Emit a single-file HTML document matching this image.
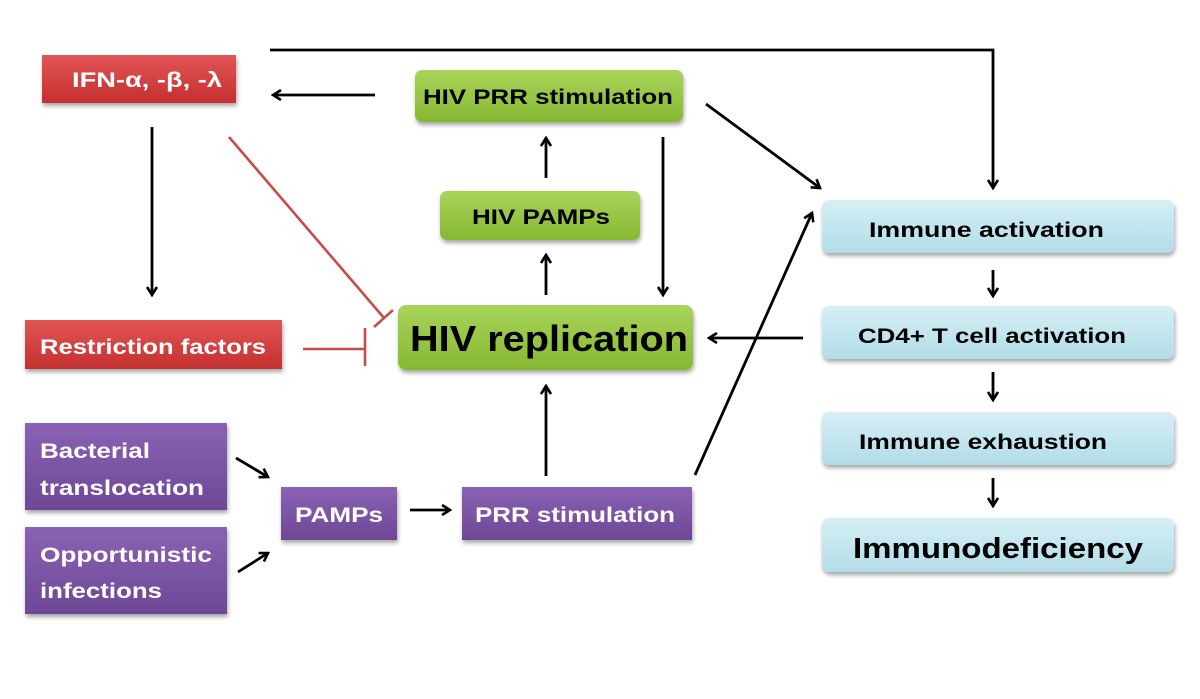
<!DOCTYPE html>
<html><head><meta charset="utf-8"><style>
html,body{margin:0;padding:0;background:#fff;width:1200px;height:699px;overflow:hidden}
svg text{font-family:"Liberation Sans",sans-serif;font-weight:bold}
</style></head><body>
<svg width="1200" height="699" viewBox="0 0 1200 699" xmlns="http://www.w3.org/2000/svg">
<defs>
<marker id="a" viewBox="0 0 12 12" refX="10" refY="6" markerWidth="12" markerHeight="12" markerUnits="userSpaceOnUse" orient="auto">
<polyline points="2,1 10,6 2,11" fill="none" stroke="#000" stroke-width="2.6"/></marker>
<linearGradient id="r" x1="0" y1="0" x2="0" y2="1"><stop offset="0" stop-color="#e25555"/><stop offset="1" stop-color="#c42f2f"/></linearGradient>
<linearGradient id="g" x1="0" y1="0" x2="0" y2="1"><stop offset="0" stop-color="#a9d45a"/><stop offset="1" stop-color="#86b832"/></linearGradient>
<linearGradient id="p" x1="0" y1="0" x2="0" y2="1"><stop offset="0" stop-color="#8a62b4"/><stop offset="1" stop-color="#6e4796"/></linearGradient>
<linearGradient id="b" x1="0" y1="0" x2="0" y2="1"><stop offset="0" stop-color="#d6eff5"/><stop offset="1" stop-color="#b2dde8"/></linearGradient>
<filter id="s" x="-10%" y="-10%" width="120%" height="130%"><feDropShadow dx="1" dy="3" stdDeviation="2" flood-opacity="0.35"/></filter>
</defs>

<!-- boxes -->
<g filter="url(#s)">
<rect x="42" y="55" width="194" height="48" fill="url(#r)"/>
<rect x="25" y="320" width="257" height="49" fill="url(#r)"/>
<rect x="415" y="70" width="268" height="52" rx="7" fill="url(#g)"/>
<rect x="440" y="191" width="200" height="49" rx="7" fill="url(#g)"/>
<rect x="398" y="305" width="295" height="65" rx="8" fill="url(#g)"/>
<rect x="25" y="423" width="202" height="87" fill="url(#p)"/>
<rect x="25" y="527" width="202" height="87" fill="url(#p)"/>
<rect x="281" y="487" width="116" height="53" fill="url(#p)"/>
<rect x="462" y="487" width="230" height="53" fill="url(#p)"/>
<rect x="822" y="200" width="352" height="53" rx="7" fill="url(#b)"/>
<rect x="822" y="306" width="352" height="53" rx="7" fill="url(#b)"/>
<rect x="822" y="412" width="352" height="53" rx="7" fill="url(#b)"/>
<rect x="822" y="518" width="352" height="54" rx="7" fill="url(#b)"/>
</g>

<!-- text -->
<g fill="#fff" font-size="21">
<text x="72" y="87" textLength="150" lengthAdjust="spacingAndGlyphs">IFN-α, -β, -λ</text>
<text x="40" y="354" textLength="226" lengthAdjust="spacingAndGlyphs">Restriction factors</text>
<text x="40" y="458" textLength="110" lengthAdjust="spacingAndGlyphs">Bacterial</text>
<text x="40" y="495" textLength="164" lengthAdjust="spacingAndGlyphs">translocation</text>
<text x="40" y="562" textLength="172" lengthAdjust="spacingAndGlyphs">Opportunistic</text>
<text x="40" y="598" textLength="122" lengthAdjust="spacingAndGlyphs">infections</text>
<text x="295" y="522" textLength="88" lengthAdjust="spacingAndGlyphs">PAMPs</text>
<text x="475" y="522" textLength="200" lengthAdjust="spacingAndGlyphs">PRR stimulation</text>
</g>
<g fill="#000" font-size="21">
<text x="423" y="104" textLength="250" lengthAdjust="spacingAndGlyphs">HIV PRR stimulation</text>
<text x="472" y="224" textLength="138" lengthAdjust="spacingAndGlyphs">HIV PAMPs</text>
<text x="410" y="351" font-size="36" textLength="278" lengthAdjust="spacingAndGlyphs">HIV replication</text>
<text x="869" y="237" textLength="235" lengthAdjust="spacingAndGlyphs">Immune activation</text>
<text x="858" y="343" textLength="268" lengthAdjust="spacingAndGlyphs">CD4+ T cell activation</text>
<text x="859" y="449" textLength="248" lengthAdjust="spacingAndGlyphs">Immune exhaustion</text>
<text x="853" y="558" font-size="29" textLength="290" lengthAdjust="spacingAndGlyphs">Immunodeficiency</text>
</g>

<!-- arrows -->
<g stroke="#000" stroke-width="2.8" fill="none" marker-end="url(#a)">
<polyline points="270,50 993,50 993,188"/>
<line x1="375" y1="95" x2="273" y2="95"/>
<line x1="152" y1="127" x2="152" y2="295"/>
<line x1="546" y1="178" x2="546" y2="138"/>
<line x1="546" y1="295" x2="546" y2="255"/>
<line x1="663" y1="137" x2="663" y2="295"/>
<line x1="706" y1="104" x2="820" y2="188"/>
<line x1="803" y1="338" x2="709" y2="338"/>
<line x1="546" y1="476" x2="546" y2="386"/>
<line x1="695" y1="475" x2="812" y2="213"/>
<line x1="410" y1="510" x2="450" y2="510"/>
<line x1="236" y1="458" x2="268" y2="477"/>
<line x1="238" y1="572" x2="268" y2="553"/>
<line x1="993" y1="270" x2="993" y2="296"/>
<line x1="993" y1="372" x2="993" y2="400"/>
<line x1="993" y1="478" x2="993" y2="506"/>
</g>
<g stroke="#c94a4a" stroke-width="2.6" fill="none">
<line x1="229" y1="137" x2="384" y2="318"/>
<line x1="374" y1="327" x2="393" y2="310"/>
<line x1="303" y1="349" x2="365" y2="349"/>
<line x1="365" y1="328" x2="365" y2="366"/>
</g>
</svg>
</body></html>
